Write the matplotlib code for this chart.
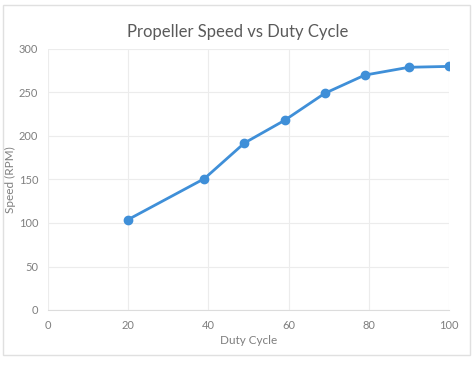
import matplotlib.pyplot as plt
from matplotlib.patches import Rectangle

# data
duty = [20, 39, 49, 59, 69, 79, 90, 100]
rpm = [104, 151, 192, 218, 249, 270, 279, 280]
xticks = [0, 20, 40, 60, 80, 100]
yticks = [0, 50, 100, 150, 200, 250, 300]

plt.rcParams['font.family'] = ['Lato', 'DejaVu Sans']
grey = '#7f7f7f'
blue = '#3f8fd8'

fig = plt.figure(figsize=(4.74, 3.84), dpi=100)
# light chart-area frame like the Excel export
fig.patches.append(Rectangle((3/474, 1-355/384), 467/474, 350/384, transform=fig.transFigure,
                             fill=False, edgecolor='#e0e0e0', lw=1))
ax = fig.add_axes([48/474, 1-310/384, 401/474, 261/384])

ax.plot(duty, rpm, '-', color=blue, lw=2, marker='o', ms=6, mfc=blue, mec=blue)

ax.set_xlim(0, 100); ax.set_ylim(0, 300)
ax.set_xticks(xticks); ax.set_yticks(yticks)
ax.grid(True, color='#ececec', lw=0.8)
ax.set_axisbelow(True)
for s in ax.spines.values():
    s.set_visible(False)
ax.spines['bottom'].set_visible(True)
ax.spines['bottom'].set_color('#dcdcdc')
ax.tick_params(length=0, labelsize=8, colors=grey, pad=7)

ax.set_title('Propeller Speed vs Duty Cycle', fontsize=12, color='#5a5a5a', pad=9, x=0.472)
ax.set_xlabel('Duty Cycle', fontsize=8.5, color=grey, labelpad=3)
ax.set_ylabel('Speed (RPM)', fontsize=8.5, color=grey)
ax.yaxis.set_label_coords(-0.08, 0.5)

fig.savefig('out.png', dpi=100)
